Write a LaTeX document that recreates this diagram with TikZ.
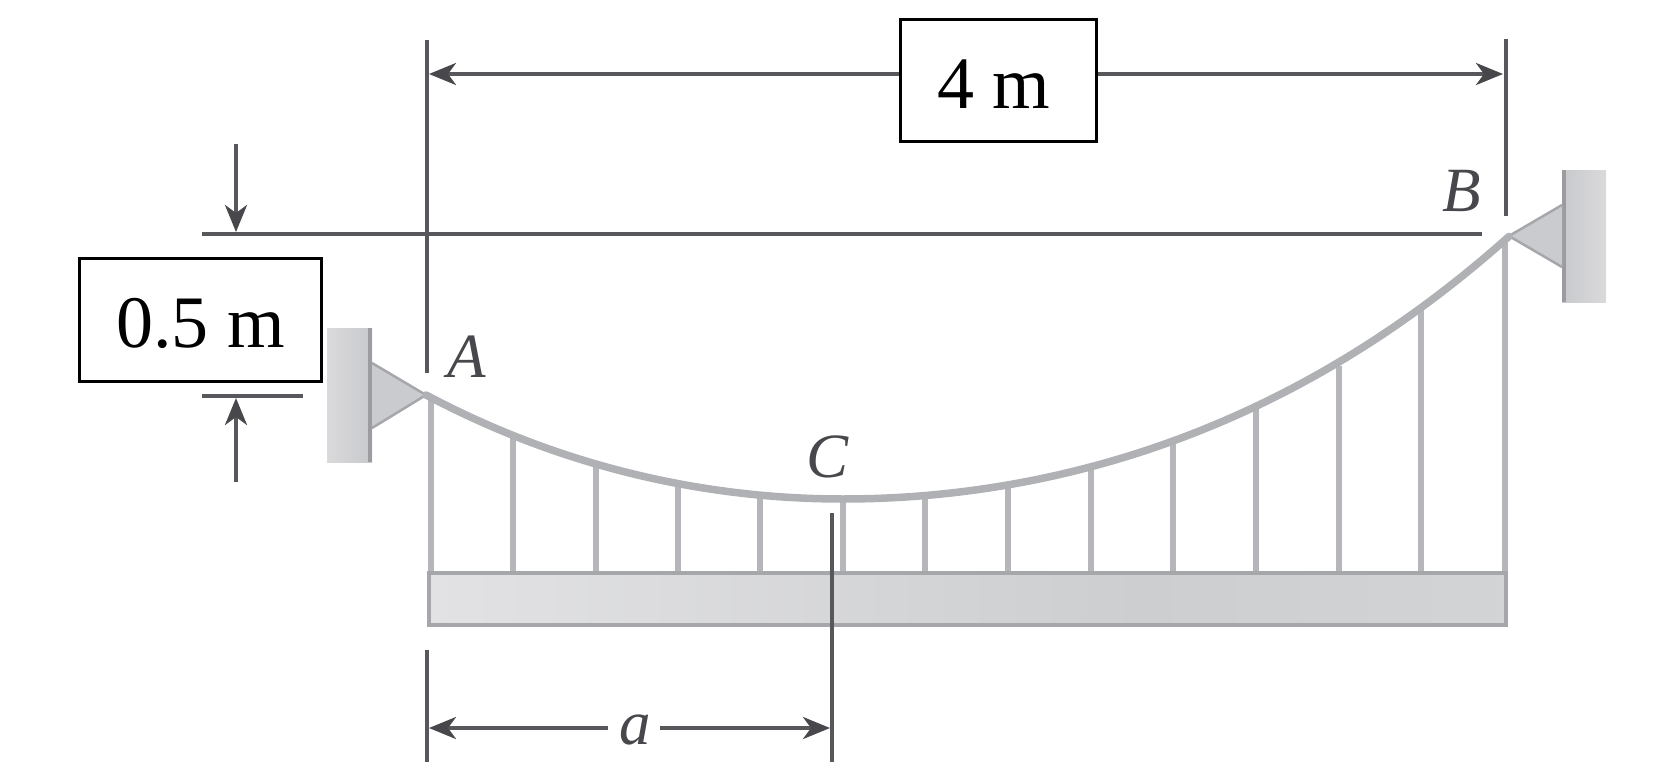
\documentclass[tikz,border=0pt]{standalone}
\usepackage{fontspec}
\setmainfont{Liberation Serif}
\usetikzlibrary{arrows.meta}
\definecolor{dimline}{HTML}{58585C}
\definecolor{dimhead}{HTML}{48484C}
\definecolor{labelgray}{HTML}{48484C}
\definecolor{cablegray}{HTML}{B0B1B5}
\definecolor{hangergray}{HTML}{B5B6BA}
\definecolor{edgegray}{HTML}{A6A7AB}
\definecolor{walledge}{HTML}{9B9CA0}
\definecolor{trifill}{HTML}{CACBCE}
\definecolor{dA}{HTML}{E8E8EA}
\definecolor{dB}{HTML}{E2E2E4}
\definecolor{dC}{HTML}{CDCED0}
\definecolor{dD}{HTML}{D6D7D9}
\definecolor{dE}{HTML}{E0E0E2}
\definecolor{wA}{HTML}{DADADC}
\definecolor{wB}{HTML}{C8C9CC}
\pgfdeclarehorizontalshading{deckshade}{100bp}{color(0bp)=(dA);color(25bp)=(dB);color(58bp)=(dC);color(85bp)=(dD);color(100bp)=(dE)}
\pgfdeclarehorizontalshading{wallleft}{100bp}{color(0bp)=(wA);color(25bp)=(wA);color(75bp)=(wB);color(100bp)=(wB)}
\pgfdeclarehorizontalshading{wallright}{100bp}{color(0bp)=(wB);color(25bp)=(wB);color(75bp)=(wA);color(100bp)=(wA)}
\tikzset{
  dim/.style={draw=dimline,line width=3.3pt},
  dimarrow/.style={draw=dimline,line width=3.6pt,-{Stealth[length=27pt,width=22pt,inset=8pt,color=dimhead]}},
  valuebox/.style={draw=black,line width=3.2pt,fill=white,inner sep=0pt,font=\fontsize{74}{80}\selectfont},
  letter/.style={text=labelgray,inner sep=0pt,font=\fontsize{63}{70}\selectfont\itshape},
  hanger/.style={draw=hangergray,line width=6.5pt},
  cable/.style={draw=cablegray,line width=7.5pt,line cap=round,line join=round},
  tri/.style={fill=trifill,draw=edgegray,line width=2.5pt,line join=round}
}
\begin{document}
\begin{tikzpicture}[x=1pt,y=-1pt]
\useasboundingbox (0,0) rectangle (1658,782);
\fill[white] (0,0) rectangle (1658,782);
% end points of the cable
\coordinate (A) at (426,395);
\coordinate (B) at (1509,236);
% supports
\shade[shading=wallleft] (327,328) rectangle (372,462);
\draw[draw=walledge,line width=4.5pt] (370,328) -- (370,462);
\draw[tri] (372,363) -- (A) -- (372,428);
\shade[shading=wallright] (1562,170) rectangle (1606,302);
\draw[draw=walledge,line width=4.5pt] (1564,170) -- (1564,302);
\draw[tri] (1562,205) -- (B) -- (1562,267);
% hangers
\foreach \hx/\hy in {431/398,513/437,596/466,678/484,760/495,843/499,925/494,1008/485,1091/466,1173/442,1256/407,1339/366,1421/310,1505/243}
  \draw[hanger] (\hx,\hy) -- (\hx,574);
% cable
\draw[cable] plot[smooth,domain=426:843,samples=30,variable=\t] (\t,{499-(5.6*((843-\t)/100)^2+0.022*((843-\t)/100)^4)})
  -- plot[smooth,domain=843:1509,samples=45,variable=\t] (\t,{499-(5.133*((\t-843)/100)^2+0.01773*((\t-843)/100)^4)});
% deck
\shade[shading=deckshade] (429,573) rectangle (1506,625);
\draw[draw=edgegray,line width=3.2pt] (429,573) rectangle (1506,625);
% dimension boxes
\node[valuebox,minimum width=196pt,minimum height=122pt,text height=55pt,text depth=0pt] (fourbox) at (998.5,80.5) {\kern-9pt 4 m};
\node[valuebox,minimum width=242pt,minimum height=123pt,text height=54pt,text depth=0pt] (halfbox) at (200.5,320) {0.5 m};
% extension lines
\coordinate (vAt) at (427,40);   \coordinate (vAb) at (427,373);
\coordinate (vBt) at (1506,39);  \coordinate (vBb) at (1506,216);
\coordinate (hTl) at (202,234);  \coordinate (hTr) at (1482,234);
\coordinate (hLl) at (202,396);  \coordinate (hLr) at (303,396);
\coordinate (vLt) at (427,650);  \coordinate (vLb) at (427,762);
\coordinate (vCt) at (832,513);  \coordinate (vCb) at (832,762);
\draw[dim] (vAt) -- (vAb);
\draw[dim] (vBt) -- (vBb);
\draw[dim] (hTl) -- (hTr);
\draw[dim,line width=4.5pt] (hLl) -- (hLr);
\draw[dim] (vLt) -- (vLb);
\draw[dim] (vCt) -- (vCb);
% dimension arrows
\coordinate (tipL) at (429,74);  \coordinate (tipR) at (1503,74);
\draw[dimarrow] (fourbox.west |- tipL) -- (tipL);
\draw[dimarrow] (fourbox.east |- tipR) -- (tipR);
\coordinate (dnS) at (236,144);  \coordinate (dnE) at (236,232);
\coordinate (upS) at (236,482);  \coordinate (upE) at (236,398);
\draw[dimarrow] (dnS) -- (dnE);
\draw[dimarrow] (upS) -- (upE);
% labels
\node[letter] (lA) at (467,357) {A};
\node[letter] (lB) at (1462,191) {B};
\node[letter] (lC) at (828,457) {C};
\node[letter] (la) at (635,730) {a};
\coordinate (aL) at (429,728);  \coordinate (aR) at (830,728);
\coordinate (aLs) at (608,728); \coordinate (aRs) at (660,728);
\draw[dimarrow] (aLs) -- (aL);
\draw[dimarrow] (aRs) -- (aR);
\end{tikzpicture}
\end{document}
